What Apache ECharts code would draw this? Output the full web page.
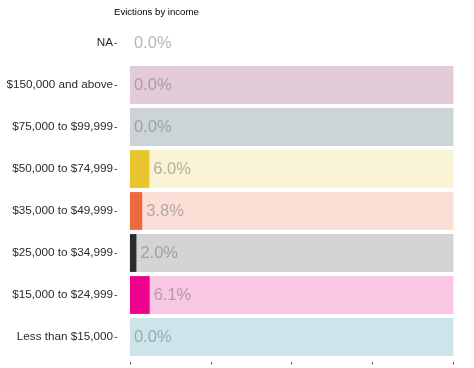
<!DOCTYPE html>
<html>
<head>
<meta charset="utf-8">
<script src="https://cdn.jsdelivr.net/npm/echarts@6/dist/echarts.min.js"></script>
<style>
html,body{margin:0;padding:0;background:#fff;}
#chart{width:474px;height:368px;}
</style>
</head>
<body>
<div id="chart"></div>
<script>
const categories = ["NA", "$150,000 and above", "$75,000 to $99,999", "$50,000 to $74,999", "$35,000 to $49,999", "$25,000 to $34,999", "$15,000 to $24,999", "Less than $15,000"];
const shares = [0.0, 0.0, 0.0, 6.0, 3.8, 2.0, 6.1, 0.0];
const backgroundShares = [null, 100, 100, 100, 100, 100, 100, 100];
const barColors = ["#999999", "#7a2d5c", "#3e5862", "#e8c52f", "#ed6a3e", "#2b2b2b", "#ec008c", "#3aa0b5"];
const backColors = ["#ffffff", "#e4cbd9", "#ccd4d6", "#f8f3d5", "#fbdfd6", "#d4d4d4", "#f9c6e4", "#cce4ea"];
const xTicks = [0, 25, 50, 75, 100];

const chart = echarts.init(document.getElementById('chart'), null, {renderer: 'canvas'});
const font = '"Liberation Sans", Arial, sans-serif';
chart.setOption({
  animation: false,
  title: {
    text: 'Evictions by income',
    left: 109, top: 2,
    textStyle: {fontFamily: font, fontSize: 9.6, fontWeight: 'normal', color: '#000'}
  },
  grid: {left: 117, right: 7.6, top: 22, bottom: 10, containLabel: false},
  xAxis: {
    type: 'value', min: -4, max: 104,
    offset: 4,
    axisLine: {show: false, onZero: false},
    axisTick: {show: true, length: 2.5, customValues: xTicks, lineStyle: {color: '#555', width: 1}},
    axisLabel: {show: false, customValues: xTicks},
    splitLine: {show: false}
  },
  yAxis: {
    type: 'category', data: categories, inverse: true,
    axisLine: {show: false, onZero: false},
    axisTick: {show: true, length: 2.5, alignWithLabel: true, lineStyle: {color: '#555', width: 1}},
    axisLabel: {margin: 4, fontFamily: font, fontSize: 11.7, color: '#2a2a2a'}
  },
  series: [
    {
      type: 'bar', data: backgroundShares.map((v, i) => ({value: v, itemStyle: {color: backColors[i]}})),
      barWidth: '90%', barGap: '-100%', silent: true, z: 1
    },
    {
      type: 'bar', data: shares.map((v, i) => ({value: v, itemStyle: {color: barColors[i]}})),
      barWidth: '90%', barGap: '-100%', z: 2,
      label: {
        show: true, position: 'right', distance: 4,
        formatter: p => p.value.toFixed(1) + '%',
        fontFamily: font, fontSize: 16.5, color: 'rgba(110,110,110,0.5)'
      }
    }
  ]
});
</script>
</body>
</html>
